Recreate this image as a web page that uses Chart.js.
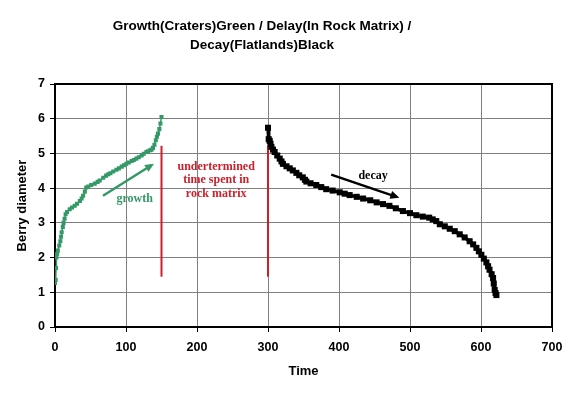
<!DOCTYPE html>
<html><head><meta charset="utf-8">
<script src="https://cdn.jsdelivr.net/npm/chart.js@4.4.1/dist/chart.umd.min.js"></script>
<style>html,body{margin:0;padding:0;background:#fff;}canvas{display:block;}</style>
</head><body>
<canvas id="c" width="576" height="398"></canvas>
<script>
// ---- data ----
const titleLines = ['Growth(Craters)Green / Delay(In Rock Matrix) /', 'Decay(Flatlands)Black'];
const xTitle = 'Time';
const yTitle = 'Berry diameter';
const xTicks = [0, 100, 200, 300, 400, 500, 600, 700];
const yTicks = [0, 1, 2, 3, 4, 5, 6, 7];

const growthTime = [0, 1, 1.5, 2, 3, 4, 6, 7.5, 8.5, 9.4, 11, 12, 13.5, 15, 17, 20.7, 24, 27.7, 31, 35, 37.5, 39.6, 42, 44, 47, 51, 56, 60, 63, 68, 72, 75, 78, 82, 86.5, 90, 94, 97, 100.5, 104, 108, 111, 114.5, 118, 122, 125, 128.7, 131, 134, 136, 138, 140, 142, 143.5, 145, 147, 148.5, 150];
const growthDiameter = [1.27, 1.36, 1.7, 2.0, 2.1, 2.2, 2.35, 2.47, 2.6, 2.73, 2.88, 3.0, 3.12, 3.25, 3.31, 3.39, 3.44, 3.49, 3.55, 3.63, 3.7, 3.78, 3.9, 4.02, 4.05, 4.09, 4.13, 4.18, 4.22, 4.30, 4.36, 4.40, 4.43, 4.48, 4.53, 4.57, 4.62, 4.66, 4.70, 4.74, 4.78, 4.81, 4.85, 4.89, 4.94, 4.99, 5.04, 5.06, 5.09, 5.11, 5.16, 5.25, 5.38, 5.48, 5.57, 5.70, 5.86, 6.05];

const decayTime = [300, 301, 302.4, 303.5, 304.8, 307, 309.4, 313, 316.5, 319, 321, 326, 330.6, 335, 340, 344, 349, 352, 354, 360, 368, 375, 382, 391, 401, 408, 415, 425, 434, 444, 453, 462, 471, 480, 490, 500, 509, 518, 527, 532, 537, 542, 549, 556, 563, 570, 577, 584, 589, 593.5, 597, 600.5, 604, 607.6, 610, 612, 615, 617, 618, 619.3, 620.5, 621.7];
const decayDiameter = [5.74, 5.41, 5.36, 5.28, 5.19, 5.11, 5.04, 4.94, 4.85, 4.77, 4.70, 4.63, 4.57, 4.51, 4.44, 4.37, 4.31, 4.24, 4.19, 4.14, 4.09, 4.03, 3.97, 3.93, 3.88, 3.84, 3.80, 3.75, 3.70, 3.65, 3.59, 3.54, 3.49, 3.42, 3.34, 3.28, 3.22, 3.18, 3.15, 3.10, 3.05, 2.96, 2.90, 2.83, 2.76, 2.67, 2.58, 2.47, 2.38, 2.28, 2.18, 2.08, 1.97, 1.86, 1.75, 1.65, 1.52, 1.41, 1.25, 1.07, 0.98, 0.92];

const gapMarkerTime = [150, 300];
const gapMarkerRange = [1.45, 5.22];
const gapLabel = ['undertermined', 'time spent in', 'rock matrix'];
const growthLabel = 'growth';
const decayLabel = 'decay';
const growthArrowTime = [67.6, 135.8];
const growthArrowDiameter = [3.78, 4.66];
const decayArrowTime = [389, 481];
const decayArrowDiameter = [4.39, 3.75];

// ---- styling / annotations ----
const GREEN = '#339966';
const RED = '#cc1f2a';
const notes = [
  { lines: gapLabel, x: 227, y: 4.62, color: RED, step: 13.5 },
  { lines: [growthLabel], x: 112.3, y: 3.69, color: GREEN, step: 0 },
  { lines: [decayLabel], x: 448, y: 4.36, color: '#000', step: 0 }
];

const pts = (xs, ys) => xs.map((x, i) => ({ x: x, y: ys[i] }));

const decor = {
  id: 'decor',
  afterDraw(chart) {
    const ctx = chart.ctx, a = chart.chartArea;
    const xs = chart.scales.x, ys = chart.scales.y;
    ctx.save();
    // plot frame (top/right)
    ctx.strokeStyle = '#000'; ctx.lineWidth = 2;
    ctx.beginPath();
    ctx.moveTo(a.left, a.top); ctx.lineTo(a.right, a.top); ctx.lineTo(a.right, a.bottom);
    ctx.stroke();
    // arrowheads
    chart.data.datasets.forEach((ds, i) => {
      if (!ds.arrow) return;
      const m = chart.getDatasetMeta(i).data;
      const p0 = m[m.length - 2], p1 = m[m.length - 1];
      const ang = Math.atan2(p1.y - p0.y, p1.x - p0.x);
      const L = 9, W = 4;
      const tx = p1.x + Math.cos(ang) * 3, ty = p1.y + Math.sin(ang) * 3;
      ctx.fillStyle = ds.borderColor;
      ctx.beginPath();
      ctx.moveTo(tx, ty);
      ctx.lineTo(tx - Math.cos(ang) * L - Math.sin(ang) * W, ty - Math.sin(ang) * L + Math.cos(ang) * W);
      ctx.lineTo(tx - Math.cos(ang) * L + Math.sin(ang) * W, ty - Math.sin(ang) * L - Math.cos(ang) * W);
      ctx.closePath(); ctx.fill();
    });
    // text notes
    ctx.font = 'bold 12px "Liberation Serif", "Times New Roman", serif';
    ctx.textAlign = 'center'; ctx.textBaseline = 'middle';
    notes.forEach(n => {
      ctx.fillStyle = n.color;
      const px = xs.getPixelForValue(n.x), py = ys.getPixelForValue(n.y);
      n.lines.forEach((t, k) => ctx.fillText(t, px, py + k * n.step));
    });
    // title
    ctx.fillStyle = '#000';
    ctx.font = 'bold 13.5px "Liberation Sans", Arial, sans-serif';
    ctx.textBaseline = 'alphabetic';
    ctx.fillText(titleLines[0], 262, 30);
    ctx.fillText(titleLines[1], 262, 48.5);
    ctx.restore();
  }
};

const tickFont = { family: '"Liberation Sans", Arial, sans-serif', size: 12.5, weight: 'bold' };
const titleFont = { family: '"Liberation Sans", Arial, sans-serif', size: 13, weight: 'bold' };

new Chart(document.getElementById('c'), {
  type: 'scatter',
  data: {
    datasets: [
      { data: pts(growthTime, growthDiameter), showLine: true, borderColor: GREEN, backgroundColor: GREEN,
        pointStyle: 'rect', pointRadius: 1.8, borderWidth: 1.5 },
      { data: pts(decayTime, decayDiameter), showLine: true, borderColor: '#000', backgroundColor: '#000',
        pointStyle: 'rect', pointRadius: 1.8, borderWidth: 3.5 },
      { data: pts([gapMarkerTime[0], gapMarkerTime[0]], gapMarkerRange), showLine: true, borderColor: RED, borderWidth: 2, pointRadius: 0 },
      { data: pts([gapMarkerTime[1], gapMarkerTime[1]], gapMarkerRange), showLine: true, borderColor: RED, borderWidth: 2, pointRadius: 0 },
      { data: pts(growthArrowTime, growthArrowDiameter), showLine: true, borderColor: GREEN, borderWidth: 2.5, pointRadius: 0, arrow: true },
      { data: pts(decayArrowTime, decayArrowDiameter), showLine: true, borderColor: '#000', borderWidth: 2.5, pointRadius: 0, arrow: true }
    ]
  },
  options: {
    responsive: false, animation: false,
    layout: { padding: { left: 0, right: 24, top: 84, bottom: 0 } },
    plugins: { legend: { display: false }, tooltip: { enabled: false }, title: { display: false } },
    scales: {
      x: {
        type: 'linear', min: 0, max: 700,
        afterFit(s) { s.height = 71; },
        afterBuildTicks(s) { s.ticks = xTicks.map(v => ({ value: v })); },
        ticks: { font: tickFont, color: '#000', padding: 8 },
        grid: { color: '#808080', lineWidth: 1, tickLength: 5, tickColor: '#000' },
        border: { color: '#000', width: 2 },
        title: { display: true, text: xTitle, font: titleFont, color: '#000', padding: { top: 4, bottom: 19 } }
      },
      y: {
        min: 0, max: 7,
        afterFit(s) { s.width = 55; },
        afterBuildTicks(s) { s.ticks = yTicks.map(v => ({ value: v })); },
        ticks: { font: tickFont, color: '#000', padding: 5 },
        grid: { color: '#808080', lineWidth: 1, tickLength: 5, tickColor: '#000' },
        border: { color: '#000', width: 2 },
        title: { display: true, text: yTitle, font: titleFont, color: '#000', padding: { top: 15, bottom: 4 } }
      }
    }
  },
  plugins: [decor]
});
</script>
</body></html>
